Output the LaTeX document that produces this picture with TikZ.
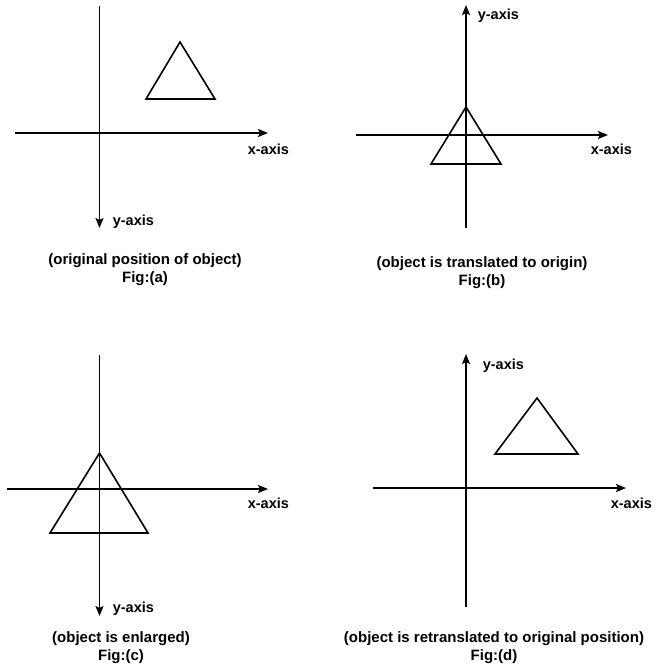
\documentclass[tikz,border=0pt]{standalone}
\usepackage{fontspec}
\setmainfont{Liberation Sans}
\usetikzlibrary{arrows.meta}
\begin{document}
\begin{tikzpicture}[x=1pt,y=-1pt,line width=1.6pt,
    axis/.style={-{Stealth[length=10pt,width=8pt,inset=2pt]}},
    axislabel/.style={font=\bfseries\fontsize{14.5}{16}\selectfont,inner sep=0pt,anchor=base west},
    caption/.style={font=\bfseries\fontsize{15}{18}\selectfont,inner sep=0pt,align=center,anchor=base}]
    \useasboundingbox (0,0) rectangle (663,671);
    % Fig (a)
    \coordinate (a top) at (99.5,6);
    \coordinate (a bottom) at (99.5,228);
    \coordinate (a left) at (15,133);
    \coordinate (a right) at (268,133);
    \draw[axis] (a top) -- (a bottom);
    \draw[axis] (a left) -- (a right);
    \draw (180,42) -- (215,99) -- (146,99) -- cycle;
    \node[axislabel] (a xlabel) at (247,154) {x-axis};
    \node[axislabel] (a ylabel) at (112,225) {y-axis};
    \node[caption] (a caption) at (145,282) {(original position of object)\\Fig:(a)};
    % Fig (b)
    \coordinate (b top) at (466,5);
    \coordinate (b bottom) at (466,228);
    \coordinate (b left) at (356,135);
    \coordinate (b right) at (608,135);
    \draw[axis] (b bottom) -- (b top);
    \draw[axis] (b left) -- (b right);
    \draw (466,107) -- (501,164) -- (431,164) -- cycle;
    \node[axislabel] (b xlabel) at (590,155) {x-axis};
    \node[axislabel] (b ylabel) at (477,20) {y-axis};
    \node[caption] (b caption) at (482,285) {(object is translated to origin)\\Fig:(b)};
    % Fig (c)
    \coordinate (c top) at (99.5,355);
    \coordinate (c bottom) at (99.5,616);
    \coordinate (c left) at (7,489);
    \coordinate (c right) at (268,489);
    \draw[axis] (c top) -- (c bottom);
    \draw[axis] (c left) -- (c right);
    \draw (99.5,453) -- (148,533) -- (50,533) -- cycle;
    \node[axislabel] (c xlabel) at (247,508) {x-axis};
    \node[axislabel] (c ylabel) at (112,612) {y-axis};
    \node[caption] (c caption) at (121,660) {(object is enlarged)\\Fig:(c)};
    % Fig (d)
    \coordinate (d top) at (466,354);
    \coordinate (d bottom) at (466,607);
    \coordinate (d left) at (373,488);
    \coordinate (d right) at (626,488);
    \draw[axis] (d bottom) -- (d top);
    \draw[axis] (d left) -- (d right);
    \draw (537,398) -- (578,454) -- (495,454) -- cycle;
    \node[axislabel] (d xlabel) at (610,508) {x-axis};
    \node[axislabel] (d ylabel) at (482,369) {y-axis};
    \node[caption] (d caption) at (494,660) {(object is retranslated to original position)\\Fig:(d)};
\end{tikzpicture}
\end{document}
